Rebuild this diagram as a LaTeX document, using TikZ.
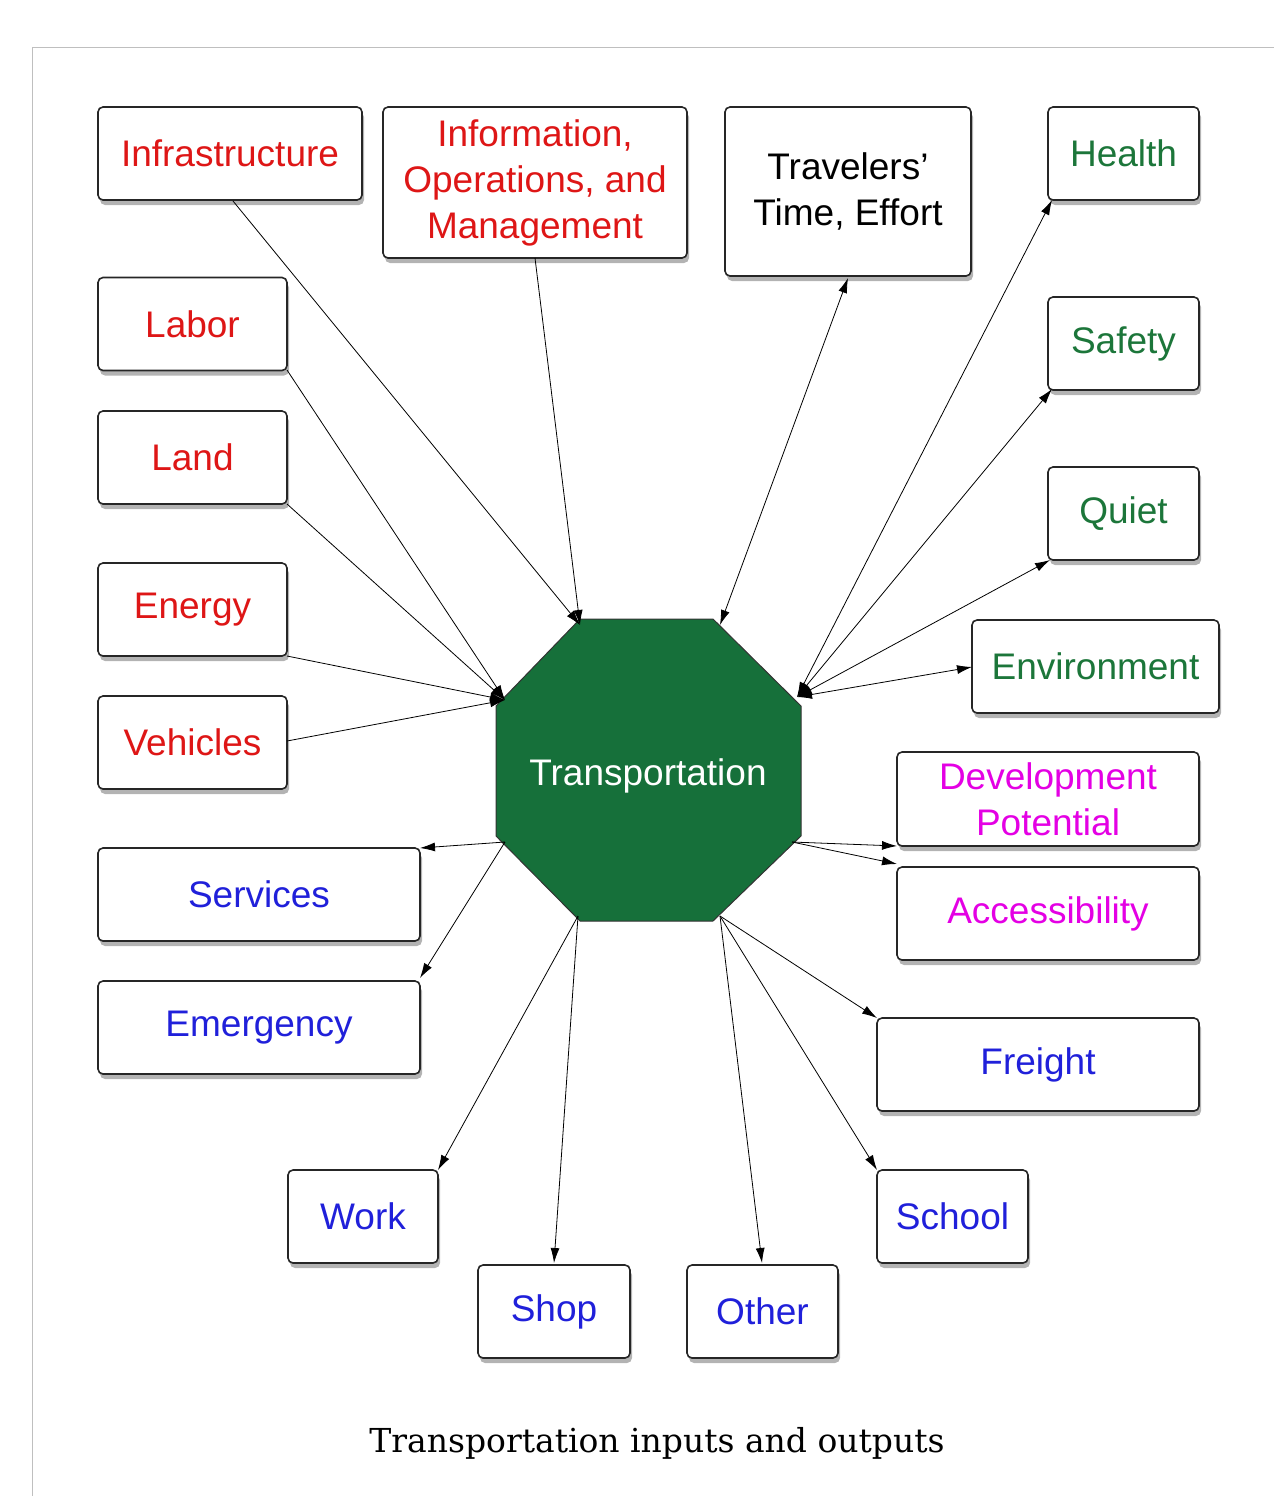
\documentclass[tikz,border=0pt]{standalone}
\usepackage{fontspec}
\setmainfont{DejaVu Serif}
\setsansfont{Liberation Sans}
\usetikzlibrary{arrows.meta,shadows}
\definecolor{inred}{RGB}{222,22,22}
\definecolor{outgreen}{RGB}{28,118,58}
\definecolor{octgreen}{RGB}{22,112,58}
\definecolor{devmag}{RGB}{228,0,228}
\definecolor{tripblue}{RGB}{32,32,218}
\tikzset{
  box/.style={draw=black!85,line width=1.6pt,rounded corners=5pt,fill=white,
    drop shadow={shadow xshift=2pt,shadow yshift=-5pt,opacity=.6},
    align=center,font=\sffamily\fontsize{37}{46}\selectfont,inner sep=0pt},
  flow/.style={-{Latex[length=15pt,width=9pt]},line width=0.8pt},
  both/.style={{Latex[length=15pt,width=9pt]}-{Latex[length=15pt,width=9pt]},line width=0.8pt}
}
\begin{document}
\begin{tikzpicture}[x=1pt,y=-1pt]
\useasboundingbox (0,0) rectangle (1274,1496);
\draw[black!25,line width=1pt] (32,1496) -- (32,48) -- (1274,48);
%% inputs
\node[box,text=inred,minimum width=264,minimum height=93] (infra) at (230,153.5) {Infrastructure};
\node[box,text=inred,minimum width=304,minimum height=151] (info) at (535,182.5) {Information,\\Operations, and\\Management};
\node[box,text=black,minimum width=246,minimum height=169] (travel) at (848,191.5) {Travelers{\char"0027}\\Time, Effort};
\node[box,text=inred,minimum width=189,minimum height=93] (labor) at (192.5,324) {Labor};
\node[box,text=inred,minimum width=189,minimum height=93] (land) at (192.5,457.5) {Land};
\node[box,text=inred,minimum width=189,minimum height=93] (energy) at (192.5,609.5) {Energy};
\node[box,text=inred,minimum width=189,minimum height=93] (vehicles) at (192.5,742.5) {Vehicles};
%% outcomes
\node[box,text=outgreen,minimum width=151,minimum height=93] (health) at (1123.5,153.5) {Health};
\node[box,text=outgreen,minimum width=151,minimum height=93] (safety) at (1123.5,343.5) {Safety};
\node[box,text=outgreen,minimum width=151,minimum height=93] (quiet) at (1123.5,513.5) {Quiet};
\node[box,text=outgreen,minimum width=247,minimum height=93] (environ) at (1095.5,666.5) {Environment};
\node[box,text=devmag,minimum width=302,minimum height=94] (develop) at (1048,799) {Development\\Potential};
\node[box,text=devmag,minimum width=302,minimum height=93] (access) at (1048,913.5) {Accessibility};
%% trips
\node[box,text=tripblue,minimum width=322,minimum height=93] (services) at (259,894.5) {Services};
\node[box,text=tripblue,minimum width=322,minimum height=93] (emergency) at (259,1027.5) {Emergency};
\node[box,text=tripblue,minimum width=322,minimum height=93] (freight) at (1038,1064.5) {Freight};
\node[box,text=tripblue,minimum width=150,minimum height=93] (work) at (363,1216.5) {Work};
\node[box,text=tripblue,minimum width=151,minimum height=93] (school) at (952.5,1216.5) {School};
\node[box,text=tripblue,minimum width=152,minimum height=93] (shop) at (554,1311.5) {Shop};
\node[box,text=tripblue,minimum width=151,minimum height=93] (other) at (762.5,1311.5) {Other};
%% octagon
\fill[octgreen,draw=black!80,line width=1pt] (580,619) -- (713,619) -- (801,706) -- (801,836)
  -- (713,921) -- (580,921) -- (496,836) -- (496,706) -- cycle;
\node[text=white,font=\sffamily\fontsize{37}{46}\selectfont] (transp) at (648,776) {Transportation};
\coordinate (oTL) at (580,625);
\coordinate (oTR) at (720,625);
\coordinate (oUL) at (505,700);
\coordinate (oUR) at (797,697);
\coordinate (oLL) at (505,842);
\coordinate (oLR) at (792,842);
\coordinate (oBL) at (578,916);
\coordinate (oBR) at (720,916);
\draw[flow] (233,201) -- (oTL);
\draw[flow] (535,258) -- (oTL);
\draw[both] (848,278) -- (oTR);
\draw[flow] (287,370) -- (oUL);
\draw[flow] (287,504) -- (oUL);
\draw[flow] (287,656) -- (oUL);
\draw[flow] (287,741) -- (oUL);
\draw[both] (oUR) -- (1052,200);
\draw[both] (oUR) -- (1052,389);
\draw[both] (oUR) -- (1050,560);
\draw[both] (oUR) -- (972,667);
\draw[flow] (oLR) -- (897,846);
\draw[flow] (oLR) -- (897,864);
\draw[flow] (oLL) -- (420,848);
\draw[flow] (oLL) -- (420,978);
\draw[flow] (oBL) -- (438,1170);
\draw[flow] (oBL) -- (554,1263);
\draw[flow] (oBR) -- (762,1263);
\draw[flow] (oBR) -- (877,1170);
\draw[flow] (oBR) -- (877,1018);
\node[font=\fontsize{33}{40}\selectfont] (caption) at (657,1443) {Transportation inputs and outputs};
\end{tikzpicture}
\end{document}
